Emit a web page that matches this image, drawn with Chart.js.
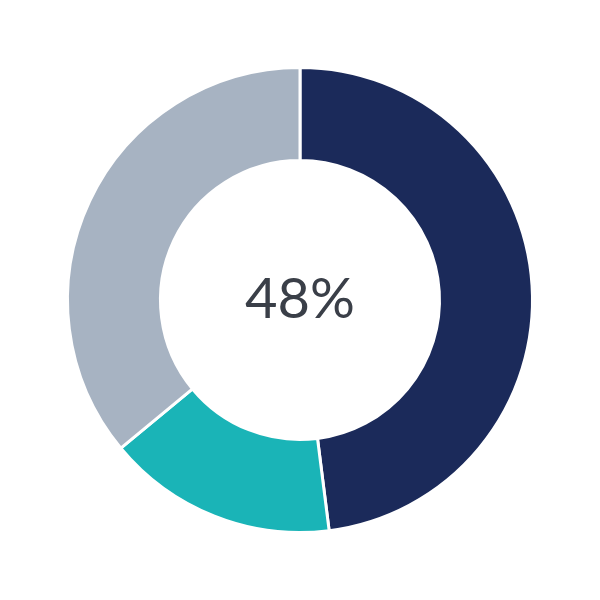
<html lang="en">
<head>
  <meta charset="utf-8">
  <title>48%</title>
  <style>
    html, body { margin: 0; padding: 0; background: #ffffff; }
    #wrap { width: 600px; height: 600px; position: relative; }
  </style>
</head>
<body>
  <div id="wrap">
    <canvas id="myChart"></canvas>
  </div>
  <script src="https://cdn.jsdelivr.net/npm/chart.js"></script>
  <script>
    const labels = ['Segment A', 'Segment B', 'Segment C']
    const values = [48, 16, 36]
    const colors = ['#1b2a5a', '#1ab4b7', '#a7b3c2']
    const centerText = '48%'

    // draws the big percentage in the hole
    const centerLabel = {
      id: 'centerLabel',
      afterDraw(chart) {
        const meta = chart.getDatasetMeta(0).data[0]
        const ctx = chart.ctx
        ctx.save()
        ctx.font = '400 56px Lato, "Open Sans", sans-serif'
        ctx.fillStyle = '#3a3f48'
        ctx.textAlign = 'center'
        ctx.textBaseline = 'middle'
        ctx.fillText(centerText, meta.x, meta.y)
        ctx.restore()
      }
    }

    function renderChart() {
      const ctx = document.getElementById('myChart')
      new Chart(ctx, {
        type: 'doughnut',
        data: {
          labels: labels,
          datasets: [{
            data: values,
            backgroundColor: colors,
            borderColor: '#ffffff',
            borderWidth: 3
          }]
        },
        options: {
          responsive: true,
          maintainAspectRatio: false,
          animation: false,
          cutout: '60%',
          layout: { padding: 66 },
          plugins: {
            legend: { display: false },
            tooltip: { enabled: false }
          }
        },
        plugins: [centerLabel]
      })
    }
    window.onload = renderChart
  </script>
</body>
</html>
